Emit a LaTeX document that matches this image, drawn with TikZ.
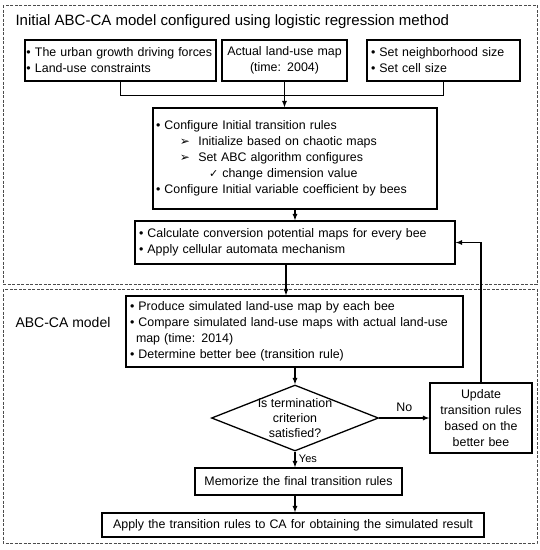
\documentclass[tikz,border=0pt]{standalone}
\usepackage{fontspec}
\setmainfont{Liberation Sans}
\newfontfamily\symfont{DejaVu Sans}
\usepackage{xcolor}
\usepackage{tikz}
\usetikzlibrary{arrows,shapes.geometric}
\newcommand{\dotitem}{\textbullet\ }
\newcommand{\arritem}{{\symfont\fontsize{12}{12}\selectfont ➢}\ \ }
\newcommand{\chkitem}{{\symfont\fontsize{11}{12}\selectfont ✓}\ }
\tikzset{
    box/.style={draw, line width=1.3pt, inner xsep=4pt, inner ysep=2pt,
        font=\fontsize{12.4}{16}\selectfont},
    decision/.style={draw, diamond, line width=1.3pt, inner sep=0pt,
        minimum width=167pt, minimum height=66pt},
    region/.style={draw=black!70, dash pattern=on 3pt off 1.5pt, line width=0.8pt},
    link/.style={line width=1.2pt},
    flow/.style={line width=1.2pt, -latex},
}

\begin{document}
\begin{tikzpicture}[x=1pt,y=-1pt]
        \useasboundingbox (0,0) rectangle (540,550);

        % the two model regions
        \draw[region] (3,5) rectangle (537,284);
        \draw[region] (3,289) rectangle (537,543);
        \node[anchor=west, font=\fontsize{15}{17}\selectfont] (title) at (12,22)
            {Initial ABC-CA model configured using logistic regression method};
        \node[anchor=west, font=\fontsize{14}{16}\selectfont] (modellabel) at (12,322)
            {ABC-CA model};

        % inputs
        \node[box, text width=188pt, inner xsep=1.5pt, minimum height=41pt, align=left] (forces) at (120.5,60.5)
            {\dotitem The urban growth driving forces\\\dotitem Land-use constraints};
        \node[box, text width=117pt, minimum height=41pt, align=center] (actual) at (284.5,60.5)
            {Actual land-use map\\(time: 2004)};
        \node[box, text width=145pt, minimum height=41pt, align=left] (cellsize) at (443.5,60.5)
            {\dotitem Set neighborhood size\\\dotitem Set cell size};

        % initial configuration
        \node[box, text width=278pt, minimum height=101pt, align=left, inner xsep=3pt] (rules) at (295,158.5)
            {\dotitem Configure Initial transition rules\\
             \hspace*{24pt}\arritem Initialize based on chaotic maps\\
             \hspace*{24pt}\arritem Set ABC algorithm configures\\
             \hspace*{53pt}\chkitem change dimension value\\
             \dotitem Configure Initial variable coefficient by bees};
        \node[box, text width=312pt, minimum height=43pt, align=left] (potential) at (295,242.5)
            {\dotitem Calculate conversion potential maps for every bee\\
             \dotitem Apply cellular automata mechanism};

        % ABC-CA loop
        \node[box, text width=329pt, minimum height=71pt, align=left] (compare) at (294.5,331.5)
            {\dotitem Produce simulated land-use map by each bee\\
             \dotitem Compare simulated land-use maps with actual land-use\\
             \hspace*{6pt}map (time: 2014)\\
             \dotitem Determine better bee (transition rule)};
        \node[decision, label={[align=center, font=\fontsize{12.4}{15}\selectfont]center:Is termination\\criterion\\satisfied?}] (check) at (295,418) {};
        \node[box, text width=94pt, minimum height=70pt, align=center] (update) at (481,418)
            {Update\\transition rules\\based on the\\better bee};
        \node[box, text width=199pt, minimum height=27pt, align=center] (memorize) at (298.5,481.5)
            {Memorize the final transition rules};
        \node[box, text width=374pt, minimum height=24pt, align=center] (apply) at (293,525)
            {Apply the transition rules to CA for obtaining the simulated result};

        % connectors
        \draw[link] (forces.south) -- ++(0,14) -| (cellsize.south);
        \draw[flow] (actual.south) -- (actual.south |- rules.north);
        \draw[flow] (rules.south) -- (rules.south |- potential.north);
        \draw[flow] ([xshift=-9pt]potential.south) -- ([xshift=-9pt]potential.south |- compare.north);
        \draw[flow] (compare.south -| check.north) -- (check.north);
        \draw[flow] (check.east) -- node[above=2pt, font=\fontsize{12.4}{14}\selectfont] {No} (update.west);
        \draw[flow] (update.north) |- (potential.east);
        \draw[flow] (check.south) -- node[right, font=\fontsize{11}{13}\selectfont, pos=0.45] {Yes} (check.south |- memorize.north);
        \draw[flow] (check.south |- memorize.south) -- (check.south |- apply.north);

    \end{tikzpicture}
\end{document}
